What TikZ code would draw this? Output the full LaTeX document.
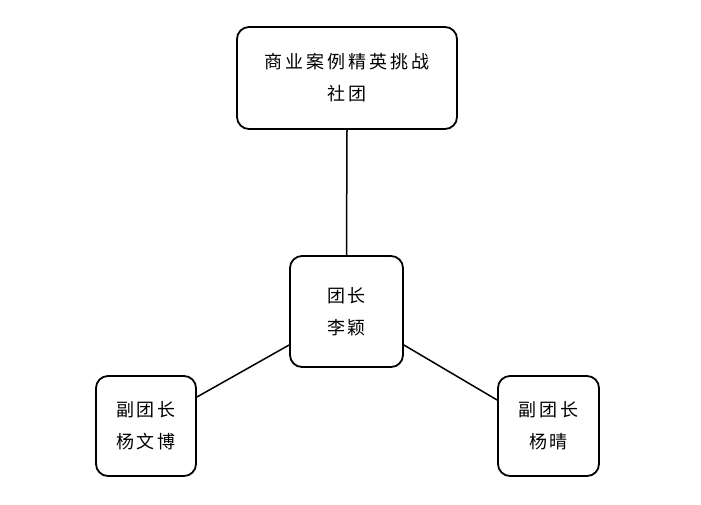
\documentclass[tikz,border=0pt]{standalone}
\usepackage{fontspec}
\newfontfamily\cjk{Noto Sans CJK SC}
\begin{document}
\begin{tikzpicture}[x=1pt,y=-1pt,
  box/.style={draw,line width=1.8pt,rounded corners=12pt,align=center,font=\cjk\fontsize{18}{32}\selectfont,inner sep=0pt},
  conn/.style={line width=1.5pt}]
\useasboundingbox (0,0) rectangle (701,504);
\node[box,minimum width=220,minimum height=102] (t) at (347,78) {商\,业\,案\,例\,精\,英\,挑\,战\\社\,团};
\node[box,minimum width=113,minimum height=111] (c) at (346.5,311.5) {团\,长\\李\,颖};
\node[box,minimum width=100,minimum height=100] (l) at (146,426) {副\,团\,长\\杨\,文\,博};
\node[box,minimum width=101,minimum height=100] (r) at (548.5,426) {副\,团\,长\\杨\,晴};
\draw[conn] (t.south) -- (c.north);
\draw[conn] ([yshift=-33.5]c.west) -- ([yshift=29]l.east);
\draw[conn] ([yshift=-33.5]c.east) -- ([yshift=26]r.west);
\end{tikzpicture}
\end{document}
